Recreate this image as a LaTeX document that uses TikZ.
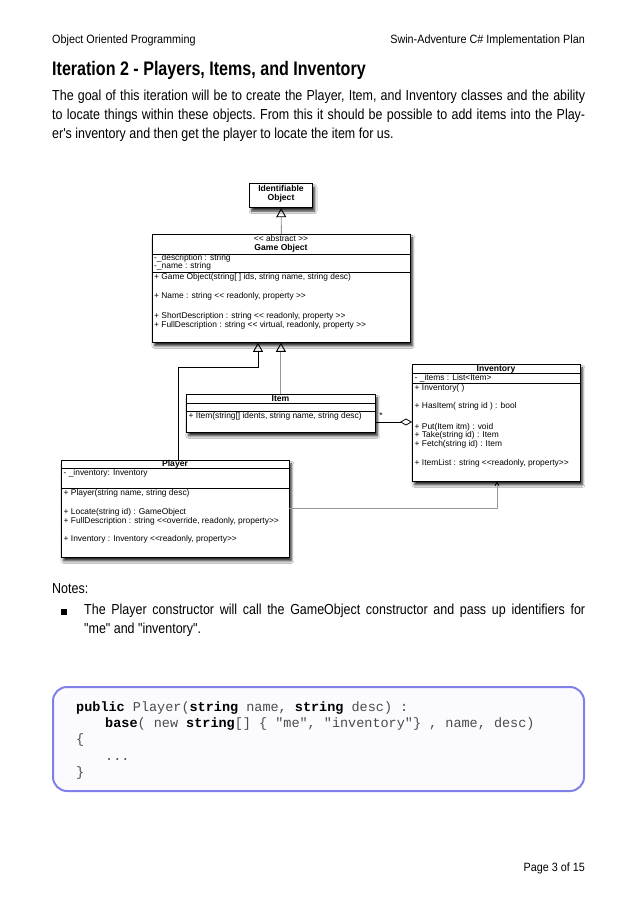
\documentclass[tikz,border=0pt]{standalone}
\usepackage{fontspec}
\setmainfont{Liberation Sans}
\setmonofont{Liberation Mono}
\newfontfamily\hdrfont{Liberation Sans}[FakeStretch=0.9]
\newfontfamily\bodyfont{Liberation Sans}[FakeStretch=0.86]
\newfontfamily\titlefont{Liberation Sans}[FakeStretch=0.82]
\usetikzlibrary{arrows.meta,shadows.blur,calc}

\definecolor{codeblue}{RGB}{128,128,232}
\definecolor{codefill}{RGB}{250,250,255}
\definecolor{linkgray}{RGB}{150,150,150}

\newcommand\dlt{<\kern0pt<}
\newcommand\dgt{>\kern0pt>}
\newcommand\kw[1]{\textbf{\color{black}#1}}

\begin{document}
\begin{tikzpicture}[x=1pt,y=-1pt,
  umlbox/.style={draw,line width=0.8pt,fill=white,inner sep=0pt,anchor=north west,
    blur shadow={shadow xshift=2pt,shadow yshift=-3.5pt,shadow blur radius=2.5pt,
      shadow blur steps=6,shadow opacity=85}},
  umltxt/.style={anchor=west,inner sep=0pt,font=\fontsize{8.4}{9}\selectfont,
    text height=6pt,text depth=1.7pt},
  umlhead/.style={inner sep=0pt,font=\bfseries\fontsize{8.6}{9}\selectfont,
    text height=6.2pt,text depth=1.8pt},
  inh/.style={-{Triangle[open,width=10pt,length=9pt,color=black]},line width=0.9pt},
  codeln/.style={anchor=base west,inner sep=0pt,text=black!70,
    font=\ttfamily\fontsize{13.5}{16}\selectfont},
  bodytxt/.style={inner sep=0pt,font=\bodyfont\fontsize{14.5}{19}\selectfont}]

  % page
  \fill[white] (0,0) rectangle (635,912);
  \useasboundingbox (0,0) rectangle (635,912);

  % header / title / intro
  \node[anchor=west,inner sep=0pt,font=\hdrfont\fontsize{12}{13}\selectfont]
    (hdl) at (52,40) {Object Oriented Programming};
  \node[anchor=east,inner sep=0pt,font=\hdrfont\fontsize{12}{13}\selectfont]
    (hdr) at (585,40) {Swin-Adventure C\# Implementation Plan};
  \node[anchor=west,inner sep=0pt,font=\titlefont\bfseries\fontsize{19.6}{21}\selectfont]
    (title) at (52,70) {Iteration 2 - Players, Items, and Inventory};
  \node[bodytxt,anchor=north west,text width=533pt,align=justify] (intro) at (52,90)
    {\frenchspacing\tolerance=10000
     The goal of this iteration will be to create the Player, Item, and Inventory classes and the ability\linebreak
     to locate things within these objects. From this it should be possible to add items into the Play-\linebreak
     er's inventory and then get the player to locate the item for us.};

  % classes
  \node[umlbox,line width=1.2pt,minimum width=63pt,minimum height=24pt] (Id) at (249,183) {};
  \node[umlhead] (id1) at (281,189.5) {Identifiable};
  \node[umlhead] (id2) at (281,198.5) {Object};

  \node[umlbox,minimum width=258pt,minimum height=108pt] (GO) at (152,234) {};
  \node[umlhead,font=\fontsize{8.4}{9}\selectfont] (go0) at (281,238.8) {\dlt{} abstract \dgt};
  \node[umlhead] (go1) at (281,248.3) {Game Object};
  \draw (GO.west |- 0,254) -- (GO.east |- 0,254);
  \node[umltxt] (go2) at (154,258.5) {-\_description : string};
  \node[umltxt] (go3) at (154,266.5) {-\_name : string};
  \draw (GO.west |- 0,272.5) -- (GO.east |- 0,272.5);
  \node[umltxt] (go4) at (154,277.5) {+ Game Object(string[ ] ids, string name, string desc)};
  \node[umltxt] (go5) at (154,296) {+ Name : string \dlt{} readonly, property \dgt};
  \node[umltxt] (go6) at (154,316) {+ ShortDescription : string \dlt{} readonly, property \dgt};
  \node[umltxt] (go7) at (154,325) {+ FullDescription : string \dlt{} virtual, readonly, property \dgt};

  \node[umlbox,minimum width=189pt,minimum height=38pt] (It) at (186,394) {};
  \node[umlhead] (it1) at (280.5,398.8) {Item};
  \draw (It.west |- 0,403.5) -- (It.east |- 0,403.5);
  \draw (It.west |- 0,411) -- (It.east |- 0,411);
  \node[umltxt] (it2) at (188.5,416) {+ Item(string[] idents, string name, string desc)};

  \node[umlbox,minimum width=168pt,minimum height=117pt] (Inv) at (412,364) {};
  \node[umlhead] (inv1) at (496,368.8) {Inventory};
  \draw (Inv.west |- 0,373.5) -- (Inv.east |- 0,373.5);
  \node[umltxt] (inv2) at (414.5,378.5) {- \_items : List\textless Item\textgreater};
  \draw (Inv.west |- 0,383.5) -- (Inv.east |- 0,383.5);
  \node[umltxt] (inv3) at (414.5,388) {+ Inventory( )};
  \node[umltxt] (inv4) at (414.5,406) {+ HasItem( string id ) : bool};
  \node[umltxt] (inv5) at (414.5,427) {+ Put(Item itm) : void};
  \node[umltxt] (inv6) at (414.5,435.5) {+ Take(string id) : Item};
  \node[umltxt] (inv7) at (414.5,444) {+ Fetch(string id) : Item};
  \node[umltxt] (inv8) at (414.5,463.5) {+ ItemList : string \dlt{}readonly, property\dgt};

  \node[umlbox,minimum width=228pt,minimum height=97pt] (Pl) at (61,460) {};
  \node[umlhead] (pl1) at (175,464) {Player};
  \draw (Pl.west |- 0,468) -- (Pl.east |- 0,468);
  \node[umltxt] (pl2) at (63.5,473) {- \_inventory: Inventory};
  \draw (Pl.west |- 0,488) -- (Pl.east |- 0,488);
  \node[umltxt] (pl3) at (63.5,493) {+ Player(string name, string desc)};
  \node[umltxt] (pl4) at (63.5,512) {+ Locate(string id) : GameObject};
  \node[umltxt] (pl5) at (63.5,521) {+ FullDescription : string \dlt{}override, readonly, property\dgt};
  \node[umltxt] (pl6) at (63.5,539.5) {+ Inventory : Inventory \dlt{}readonly, property\dgt};

  % connectors
  \coordinate (k1) at (178,367);
  \coordinate (k2) at (258,367);
  \coordinate (ag) at (375,422);
  \coordinate (as) at (289,508);
  \coordinate (as2) at (497,508);

  \draw[inh,linkgray] (GO.north) -- (Id.south);
  \draw[inh,linkgray] (It.north) -- (GO.south -| It.north);
  \draw[inh] (Pl.north -| k1) -- (k1) -- (k2) -- (GO.south -| k2);
  \draw[-{Diamond[open,width=7pt,length=12pt]},line width=0.8pt] (ag) -- (ag -| Inv.west);
  \node[inner sep=0pt,font=\fontsize{8.4}{9}\selectfont] (star) at (381,416) {*};
  \draw[linkgray,line width=0.9pt,-{Straight Barb[black,width=4pt,length=3pt]}]
    (as) -- (as2) -- (Inv.south -| as2);

  % notes
  \node[bodytxt,anchor=west] (notes) at (52,589) {Notes:};
  \node[fill=black,inner sep=0pt,minimum size=6.5pt] (bul) at (64,612) {};
  \node[bodytxt,anchor=north west,text width=501pt,align=justify] (note1) at (84,604)
    {\frenchspacing\tolerance=10000
     The Player constructor will call the GameObject constructor and pass up identifiers for\linebreak
     "me" and "inventory".};

  % code box
  \node[draw=codeblue,fill=codefill,line width=2pt,rounded corners=14pt,anchor=north west,
    minimum width=531pt,minimum height=104pt,inner sep=0pt] (code) at (52,686) {};
  \node[codeln] (c1) at (76,711) {\kw{public} Player(\kw{string} name, \kw{string} desc) :};
  \node[codeln] (c2) at (105,727) {\kw{base}( new \kw{string}[] \{ "me", "inventory"\} , name, desc)};
  \node[codeln] (c3) at (76,743.5) {\{};
  \node[codeln] (c4) at (105,760) {...};
  \node[codeln] (c5) at (76,776) {\}};

  % footer
  \node[anchor=east,inner sep=0pt,font=\hdrfont\fontsize{12}{13}\selectfont]
    (foot) at (585,868) {Page 3 of 15};
\end{tikzpicture}
\end{document}
